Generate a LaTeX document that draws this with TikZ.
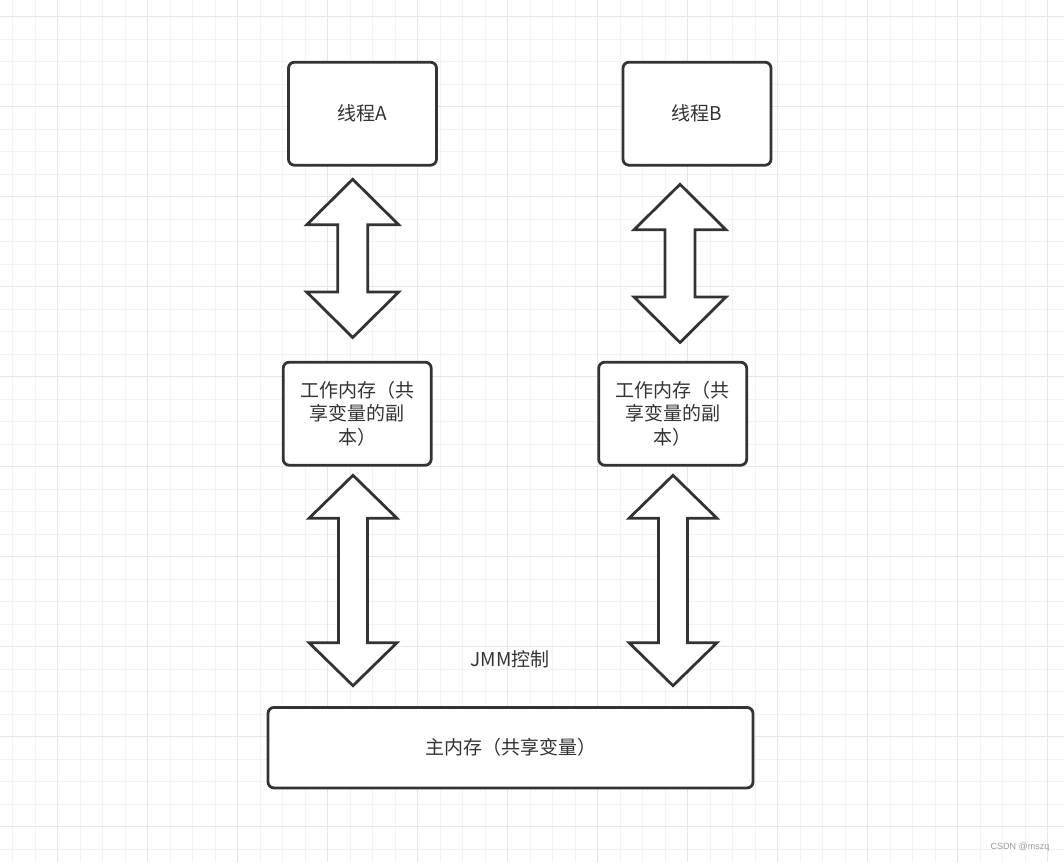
\documentclass[tikz,border=0pt]{standalone}
\usepackage{fontspec}
\setmainfont{Noto Sans CJK SC}
\newfontfamily\wmfont{Liberation Sans}
\usetikzlibrary{calc}
\definecolor{ink}{HTML}{333333}
\definecolor{gridminor}{HTML}{F3F3F3}
\definecolor{gridmajor}{HTML}{E6E6E6}
\definecolor{wmgray}{HTML}{9A9A9A}
\tikzset{
  box/.style={draw=ink, line width=2.8pt, rounded corners=6pt, fill=white, text=ink,
    inner sep=0pt, font=\fontsize{19}{23.5}\selectfont, align=center},
  blk/.style={draw=ink, line width=2.8pt, fill=white, line join=miter},
  minorline/.style={draw=gridminor, line width=1pt},
  majorline/.style={draw=gridmajor, line width=1.1pt},
}
% #1 top tip, #2 bottom tip, #3 head half width, #4 shaft half width, #5 head length
\newcommand{\blockarrow}[5]{%
  \draw[blk] (#1) -- ++(#3,#5) -- ++(#4-#3,0) -- ($(#2)+(#4,-#5)$) -- ++(#3-#4,0)
    -- (#2) -- ++(-#3,-#5) -- ++(#3-#4,0) -- ($(#1)+(-#4,#5)$) -- ++(#4-#3,0) -- cycle;}
\begin{document}
\begin{tikzpicture}[x=1pt,y=-1pt]
\useasboundingbox[fill=white] (0,0) rectangle (1064,862);
% grid
\foreach \i in {0,...,46} \draw[minorline] (12.7+22.5*\i,0) -- ++(0,862);
\foreach \j in {0,...,38} \draw[minorline] (0,16.7+22.5*\j) -- ++(1064,0);
\foreach \i in {0,...,11} \draw[majorline] (57.7+90*\i,0) -- ++(0,862);
\foreach \j in {0,...,9} \draw[majorline] (0,16.7+90*\j) -- ++(1064,0);

% boxes
\node[box, minimum width=148, minimum height=103] (ta) at (362.5,113.7) {线程A};
\node[box, minimum width=148, minimum height=103] (tb) at (697,113.7) {线程B};
\node[box, minimum width=148, minimum height=103] (wa) at (357.2,413.7) {工作内存（共\\享变量的副\\本）};
\node[box, minimum width=148, minimum height=103] (wb) at (672.7,413.7) {工作内存（共\\享变量的副\\本）};
\node[box, minimum width=485, minimum height=80.5] (mm) at (510.5,747.7) {主内存（共享变量）};

% block arrows
\coordinate (a1t) at (352.7,179.3);
\coordinate (a1b) at (352.7,337.5);
\coordinate (a2t) at (680,184.3);
\coordinate (a2b) at (680,342.5);
\coordinate (a3t) at (353,475.3);
\coordinate (a3b) at (353,685.7);
\coordinate (a4t) at (673,475.3);
\coordinate (a4b) at (673,685.7);
\blockarrow{a1t}{a1b}{46}{15}{45.5}
\blockarrow{a2t}{a2b}{46}{15}{45.5}
\blockarrow{a3t}{a3b}{44}{14.5}{43}
\blockarrow{a4t}{a4b}{44}{14.5}{43}

% labels
\node[text=ink, font=\fontsize{19}{22}\selectfont, inner sep=0pt] (jmm) at (510,659) {JMM控制};
\node[text=wmgray, font=\wmfont\fontsize{9}{10}\selectfont, anchor=east, inner sep=0pt] (wm) at (1049.5,846.7) {CSDN @mszq};
\end{tikzpicture}
\end{document}
